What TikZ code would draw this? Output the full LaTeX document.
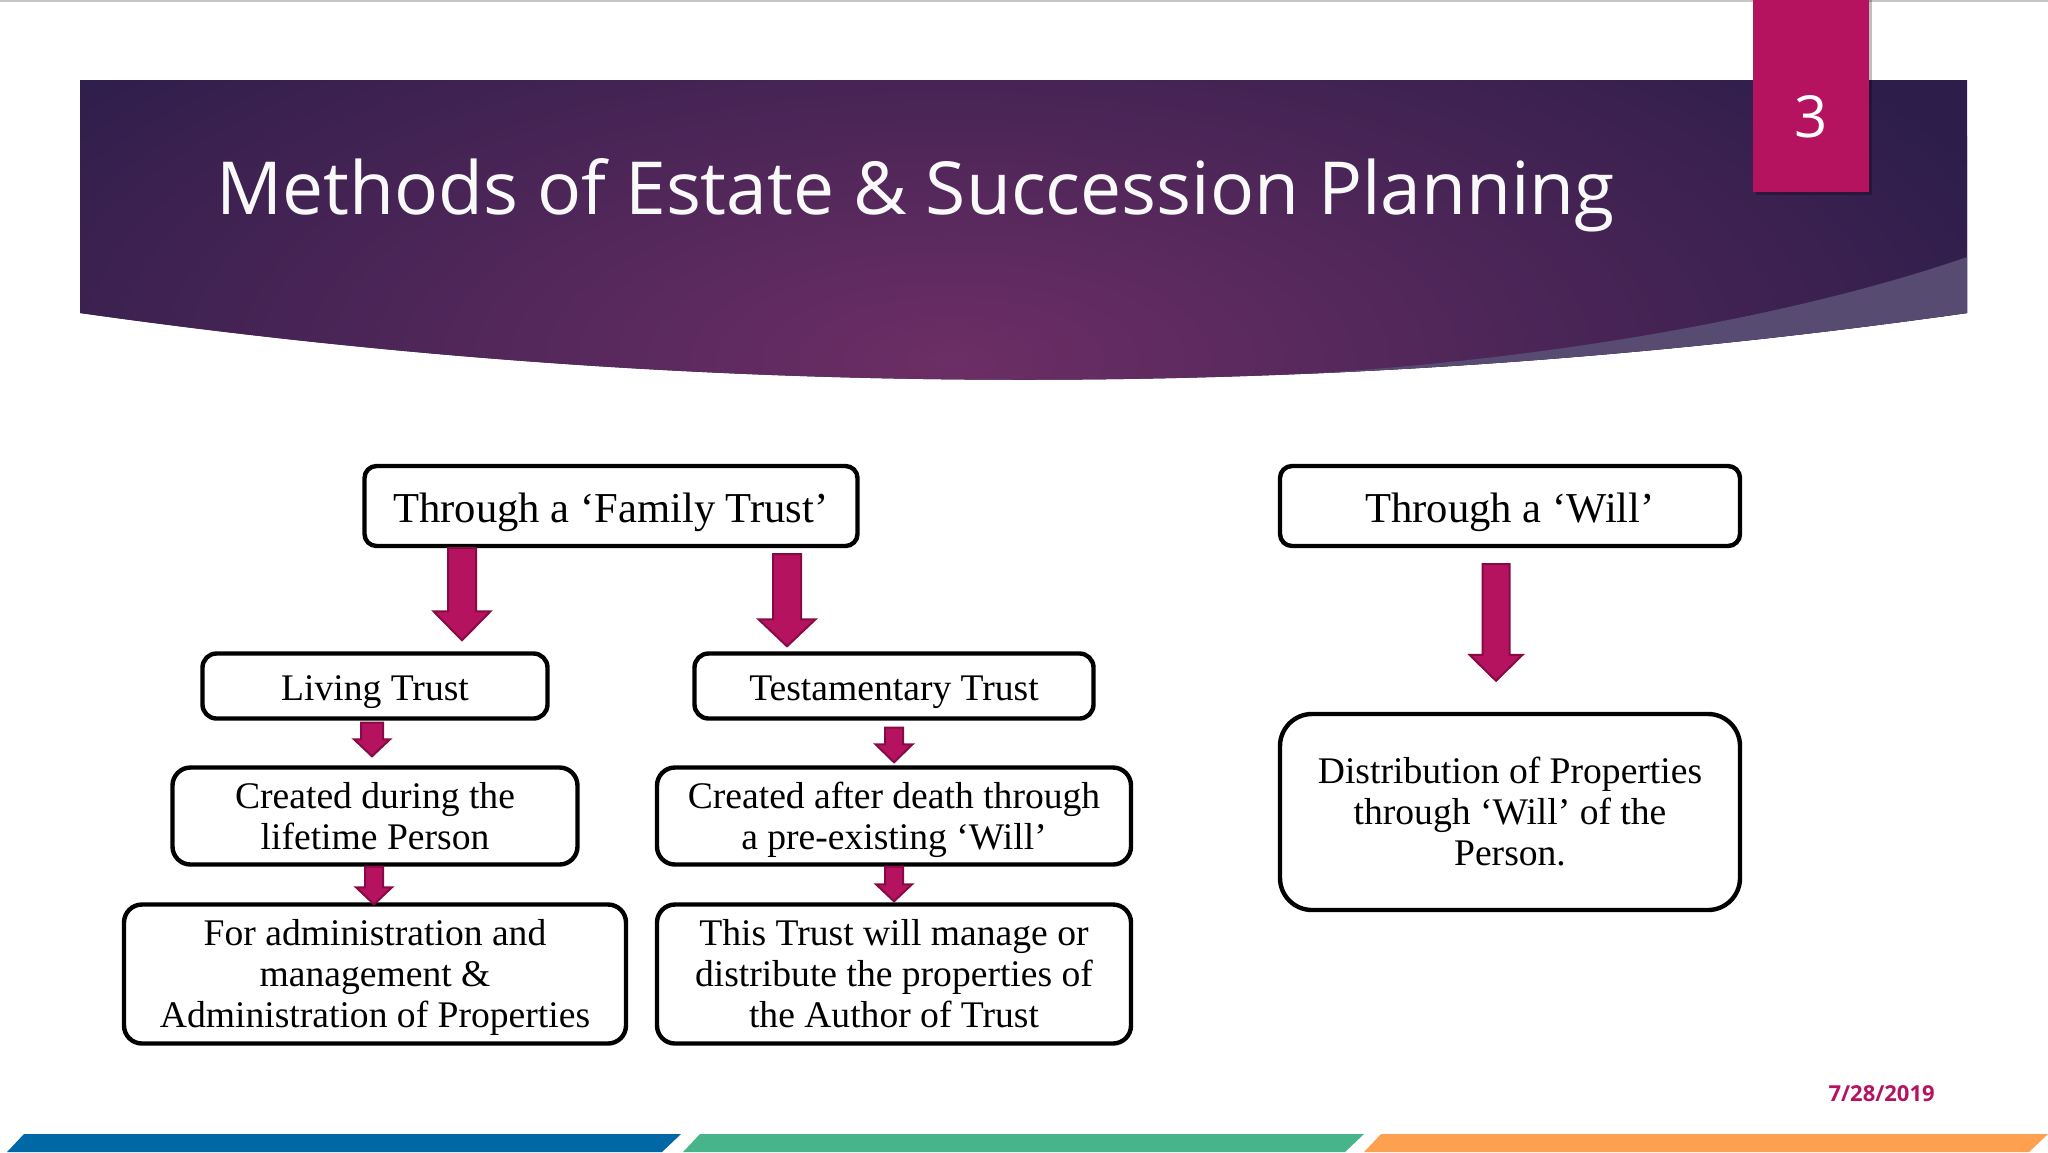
\documentclass[tikz,border=0pt]{standalone}
\usepackage{fontspec}
\setmainfont{Liberation Serif}
\newfontfamily\slidesans{Open Sans}
\usetikzlibrary{calc}
\definecolor{bandDark}{HTML}{2C1D4A}
\definecolor{bandGlow}{HTML}{6C2E65}
\definecolor{bandSwoosh}{HTML}{574B72}
\definecolor{slideMagenta}{HTML}{B5135F}
\definecolor{arrowFill}{HTML}{B5135F}
\definecolor{arrowEdge}{HTML}{870A45}
\definecolor{barBlue}{HTML}{0068A5}
\definecolor{barGreen}{HTML}{48B48C}
\definecolor{barOrange}{HTML}{FDA050}

% line struts, so that boxes centre on font metrics and not on the ink
\newcommand{\linestrut}{\rule[-0.215em]{0pt}{1.215em}}
\newcommand{\firststrut}{\rule{0pt}{0.9em}}

\tikzset{
    trustbox/.style={draw=black, line width=2.2pt, fill=white, rounded corners=9pt,
        align=center, inner sep=0pt, font=\fontsize{18.8}{20.5}\selectfont,
        execute at begin node=\linestrut, execute at end node=\linestrut},
    headbox/.style={trustbox, rounded corners=6pt, font=\fontsize{21.3}{24}\selectfont},
    arrowbody/.style={fill=arrowFill, draw=arrowEdge, line width=1pt, line join=miter}
}

% block arrow: top, tip, shaft half width, head half width, head length
\newcommand{\blockdown}[5]{%
    \filldraw[arrowbody] ($(#1)+(-#3,0)$) -- ($(#2)+(-#3,-#5)$) -- ($(#2)+(-#4,-#5)$)
        -- (#2) -- ($(#2)+(#4,-#5)$) -- ($(#2)+(#3,-#5)$) -- ($(#1)+(#3,0)$) -- cycle;}

\begin{document}
\begin{tikzpicture}[x=0.5pt, y=-0.5pt]
    \useasboundingbox[fill=white] (0,0) rectangle (2048,1152);
    \draw[gray!45, line width=1pt] (0,1) -- (2048,1);

    % header band
    \begin{scope}
        \clip (80,80) -- (1967,80) -- (1967,313) .. controls (1338,402) and (709,402) .. (80,313) -- cycle;
        \fill[bandDark] (0,0) rectangle (2048,420);
        \shade[inner color=bandGlow, outer color=bandDark] (950,360) ellipse (1150 and 480);
        \fill[bandSwoosh] (1300,374) .. controls (1550,360) and (1800,315) .. (1967,257)
            -- (2000,257) -- (2000,450) -- (1300,450) -- cycle;
    \end{scope}
    \node[font=\slidesans\fontsize{36.6}{42}\selectfont, text=white!95!gray, anchor=base west, inner sep=0pt]
        (title) at (216,214) {Methods of Estate \& Succession Planning};

    % page number tab
    \fill[black, opacity=0.25] (1756,0) rectangle (1872,195);
    \fill[slideMagenta] (1753,0) rectangle (1869,192);
    \node[font=\slidesans\fontsize{29}{32}\selectfont, text=white, anchor=base, inner sep=0pt]
        (pagenum) at (1811,137) {3};

    % boxes
    \node[headbox, minimum width=246.5pt, minimum height=40pt] (famtrust) at (611,506) {Through a ‘Family Trust’};
    \node[headbox, minimum width=230pt, minimum height=40pt] (will) at (1510,506) {Through a ‘Will’};

    \node[trustbox, minimum width=172.5pt, minimum height=32.5pt, rounded corners=7pt] (living) at (375,686) {Living Trust};
    \node[trustbox, minimum width=199.5pt, minimum height=32.5pt, rounded corners=7pt] (testa) at (894,686) {Testamentary Trust};

    \node[trustbox, minimum width=202.5pt, minimum height=48.5pt] (during) at (375,816)
        {\firststrut Created during the\\lifetime Person};
    \node[trustbox, minimum width=237pt, minimum height=48.5pt] (after) at (894,816)
        {\firststrut Created after death through\\a pre-existing ‘Will’};

    \node[trustbox, minimum width=251pt, minimum height=69.5pt] (admin) at (375,974)
        {\firststrut For administration and\\management \&\\Administration of Properties};
    \node[trustbox, minimum width=237pt, minimum height=69.5pt] (manage) at (894,974)
        {\firststrut This Trust will manage or\\distribute the properties of\\the Author of Trust};

    \node[trustbox, minimum width=230pt, minimum height=98pt, rounded corners=16pt] (distrib) at (1510,812)
        {\firststrut Distribution of Properties\\through ‘Will’ of the\\Person.};

    % arrows: from/to/x offset/top gap/tip offset/shaft/head/head length
    \foreach \s/\t/\dx/\gs/\gt/\w/\h/\l in {famtrust/living/-149/0/-11/14/28.5/29,
            famtrust/testa/176/6/-5/14/28.5/27, will/distrib/-14/16/-31/13.5/26.5/26,
            living/during/-3/2/-9/11/18/17, during/admin/-1/0/2/9/18/17,
            testa/after/0/7/-3/9/18.5/18, after/manage/0/0/-1/9/18/17} {
        \path (\s.south) ++(\dx,\gs) coordinate (top);
        \path (top |- \t.north) ++(0,\gt) coordinate (tip);
        \blockdown{top}{tip}{\w}{\h}{\l}
    }

    % date and footer bars
    \node[font=\slidesans\bfseries\fontsize{11}{12}\selectfont, text=slideMagenta, anchor=base east, inner sep=0pt]
        (date) at (1935,1101) {7/28/2019};
    \foreach \xa/\xb/\col in {7/662/barBlue, 683/1345/barGreen, 1364/2029/barOrange}
        \fill[\col] (\xa,1152) -- ($(\xa,1134)+(17,0)$) -- ($(\xb,1134)+(19,0)$) -- (\xb,1152) -- cycle;
\end{tikzpicture}
\end{document}
